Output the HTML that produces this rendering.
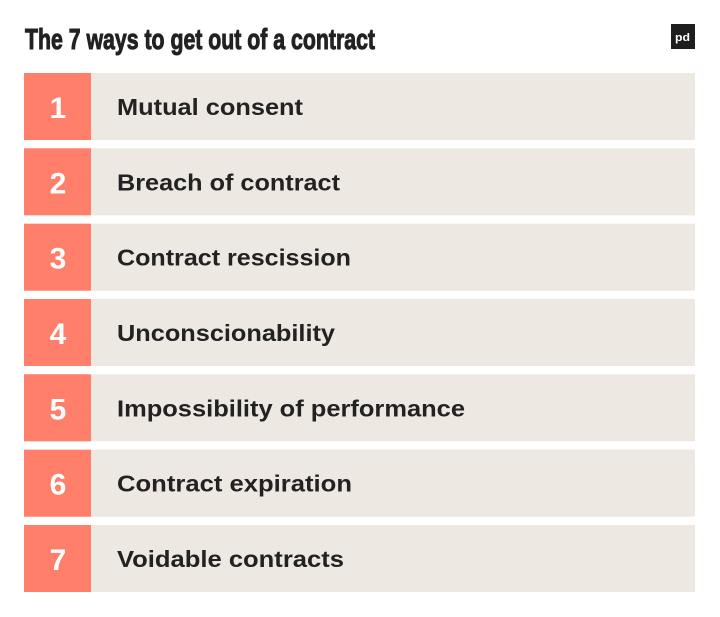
<!DOCTYPE html>
<html><head><meta charset="utf-8"><style>
html,body{margin:0;padding:0;background:#fff;}
svg{display:block;}
text{font-family:"Liberation Sans",sans-serif;font-weight:bold;}
</style></head><body>
<svg width="720" height="617" viewBox="0 0 720 617">
<rect width="720" height="617" fill="#fff"/>
<text x="25" y="49" font-size="29" fill="#222" stroke="#222" stroke-width="1" textLength="350" lengthAdjust="spacingAndGlyphs">The 7 ways to get out of a contract</text>
<rect x="671" y="24" width="24" height="25" fill="#1e1e1e"/>
<text x="675" y="41" font-size="11" font-weight="normal" fill="#fff" textLength="15" lengthAdjust="spacingAndGlyphs">pd</text>
<g>
<g transform="translate(0,73)"><rect x="24" y="0" width="671" height="67" fill="#ede8e1"/><rect x="24" y="0" width="67" height="67" fill="#ff7f6a"/><text x="58" y="45" font-size="30" fill="#fff" text-anchor="middle">1</text><text x="117" y="42" font-size="23" fill="#222" textLength="186" lengthAdjust="spacingAndGlyphs">Mutual consent</text></g>
<g transform="translate(0,148.3)"><rect x="24" y="0" width="671" height="67" fill="#ede8e1"/><rect x="24" y="0" width="67" height="67" fill="#ff7f6a"/><text x="58" y="45" font-size="30" fill="#fff" text-anchor="middle">2</text><text x="117" y="42" font-size="23" fill="#222" textLength="223" lengthAdjust="spacingAndGlyphs">Breach of contract</text></g>
<g transform="translate(0,223.7)"><rect x="24" y="0" width="671" height="67" fill="#ede8e1"/><rect x="24" y="0" width="67" height="67" fill="#ff7f6a"/><text x="58" y="45" font-size="30" fill="#fff" text-anchor="middle">3</text><text x="117" y="42" font-size="23" fill="#222" textLength="234" lengthAdjust="spacingAndGlyphs">Contract rescission</text></g>
<g transform="translate(0,299)"><rect x="24" y="0" width="671" height="67" fill="#ede8e1"/><rect x="24" y="0" width="67" height="67" fill="#ff7f6a"/><text x="58" y="45" font-size="30" fill="#fff" text-anchor="middle">4</text><text x="117" y="42" font-size="23" fill="#222" textLength="218" lengthAdjust="spacingAndGlyphs">Unconscionability</text></g>
<g transform="translate(0,374.3)"><rect x="24" y="0" width="671" height="67" fill="#ede8e1"/><rect x="24" y="0" width="67" height="67" fill="#ff7f6a"/><text x="58" y="45" font-size="30" fill="#fff" text-anchor="middle">5</text><text x="117" y="42" font-size="23" fill="#222" textLength="348" lengthAdjust="spacingAndGlyphs">Impossibility of performance</text></g>
<g transform="translate(0,449.7)"><rect x="24" y="0" width="671" height="67" fill="#ede8e1"/><rect x="24" y="0" width="67" height="67" fill="#ff7f6a"/><text x="58" y="45" font-size="30" fill="#fff" text-anchor="middle">6</text><text x="117" y="42" font-size="23" fill="#222" textLength="235" lengthAdjust="spacingAndGlyphs">Contract expiration</text></g>
<g transform="translate(0,525)"><rect x="24" y="0" width="671" height="67" fill="#ede8e1"/><rect x="24" y="0" width="67" height="67" fill="#ff7f6a"/><text x="58" y="45" font-size="30" fill="#fff" text-anchor="middle">7</text><text x="117" y="42" font-size="23" fill="#222" textLength="227" lengthAdjust="spacingAndGlyphs">Voidable contracts</text></g>
</g>
</svg>
</body></html>
